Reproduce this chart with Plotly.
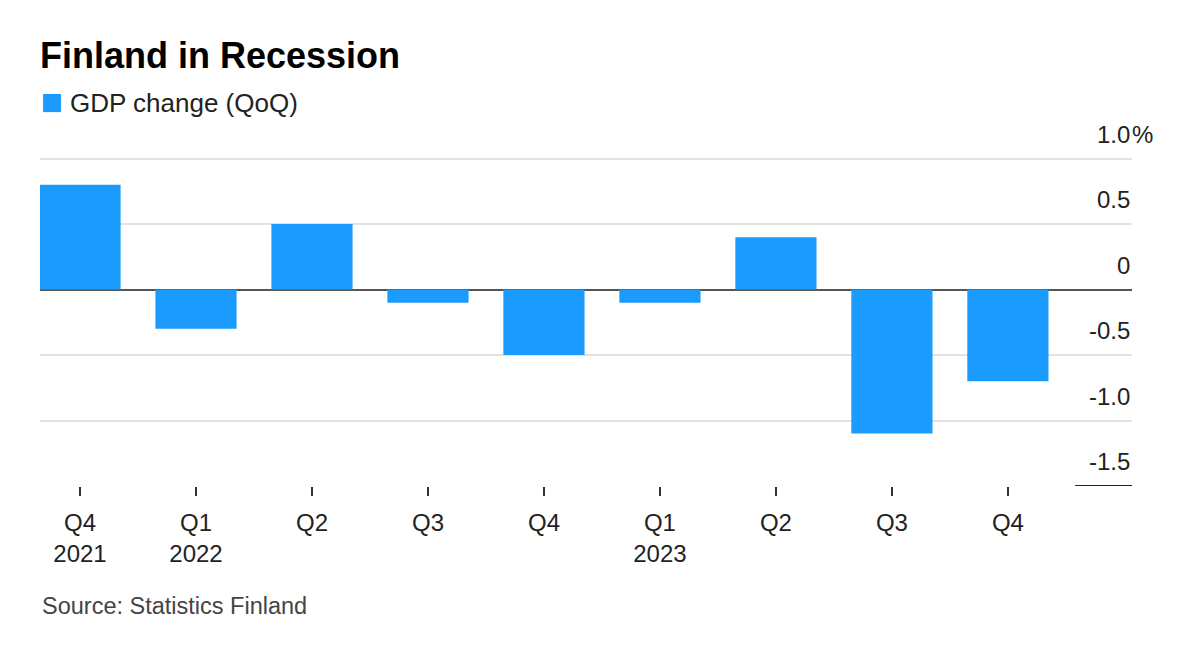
"""
Bar chart of Finland's quarterly GDP change, rebuilt with Plotly.
"""

import plotly.graph_objects as go

# Data
quarters = ["2021 Q4", "2022 Q1", "2022 Q2", "2022 Q3", "2022 Q4",
            "2023 Q1", "2023 Q2", "2023 Q3", "2023 Q4"]
tick_labels = ["Q4<br>2021", "Q1<br>2022", "Q2", "Q3", "Q4",
               "Q1<br>2023", "Q2", "Q3", "Q4"]
gdp_change = [0.8, -0.3, 0.5, -0.1, -0.5, -0.1, 0.4, -1.1, -0.7]

y_ticks = [1.0, 0.5, 0, -0.5, -1.0, -1.5]
y_tick_labels = ["1.0", "0.5", "0", "-0.5", "-1.0", "-1.5"]

BLUE = "#1b9bfd"
FONT = "Liberation Sans, Arial, sans-serif"

fig = go.Figure()

fig.add_trace(go.Bar(x=quarters, y=gdp_change, marker_color=BLUE,
                     marker_line_width=0, name="GDP change (QoQ)",
                     showlegend=False))

# Y labels sit above their gridlines on the right, so draw them as annotations
annotations = []
for val, label in zip(y_ticks, y_tick_labels):
    annotations.append(dict(x=1, xref="paper", y=val, yref="y",
                            text=label, showarrow=False,
                            xanchor="right", yanchor="bottom", yshift=9,
                            font=dict(size=24, color="#222")))
annotations.append(dict(x=1, xref="paper", y=y_ticks[0], yref="y",
                        text="%", showarrow=False,
                        xanchor="left", yanchor="bottom", yshift=9, xshift=-2,
                        font=dict(size=24, color="#222")))

# Legend entry and source note
annotations.append(dict(x=0.026, xref="paper", y=1.161, yref="paper",
                        text="GDP change (QoQ)", showarrow=False,
                        xanchor="left", yanchor="middle",
                        font=dict(size=26, color="#222")))
annotations.append(dict(x=0, xref="paper", y=-0.364, yref="paper",
                        text="Source: Statistics Finland", showarrow=False,
                        xanchor="left", yanchor="middle",
                        font=dict(size=23.5, color="#444")))

shapes = [
    # legend square
    dict(type="rect", xref="paper", yref="paper",
         x0=0.0028, x1=0.0192, y0=1.133, y1=1.188,
         fillcolor=BLUE, line_width=0),
    # short baseline under the -1.5 label
    dict(type="line", xref="paper", yref="y",
         x0=0.948, x1=1, y0=y_ticks[-1], y1=y_ticks[-1],
         line=dict(color="#222", width=2)),
]

fig.update_layout(
    width=1184, height=642,
    margin=dict(l=32, r=60, t=148, b=164),
    paper_bgcolor="white", plot_bgcolor="white",
    font=dict(family=FONT, color="#222"),
    title=dict(text="<b>Finland in Recession</b>", x=32 / 1184, xanchor="left",
               xref="container", y=1 - 47 / 642, yanchor="middle",
               yref="container", font=dict(size=36, color="#000")),
    bargap=0.30,
    annotations=annotations,
    shapes=shapes,
)

fig.update_xaxes(
    type="category", categoryorder="array", categoryarray=quarters,
    range=[-0.345, 9.07],
    tickvals=quarters, ticktext=tick_labels,
    ticks="outside", ticklen=9, tickwidth=1.5, tickcolor="#333",
    ticklabelstandoff=6,
    tickfont=dict(size=24, color="#222"),
    showgrid=False, showline=False, zeroline=False,
)

fig.update_yaxes(
    range=[-1.5, 1.02], side="right",
    tickvals=y_ticks[:-1], showticklabels=False,
    showgrid=True, gridcolor="#e3e3e3", gridwidth=2,
    zeroline=True, zerolinecolor="#555", zerolinewidth=2,
    showline=False, ticks="",
)

fig.write_html("out.html")
